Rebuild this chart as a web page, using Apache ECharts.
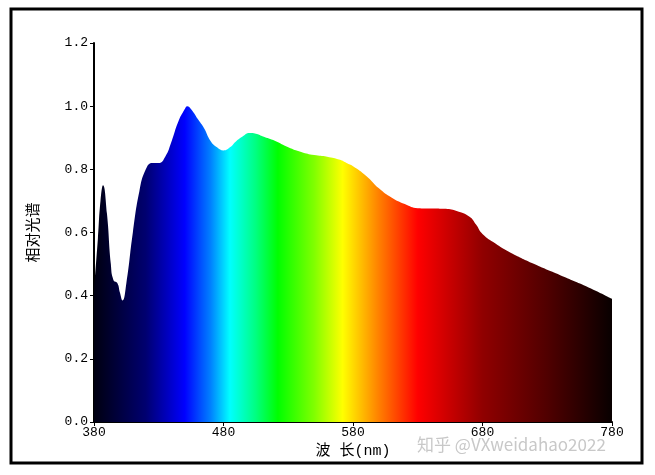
<!DOCTYPE html>
<html>
<head>
<meta charset="utf-8">
<script src="https://cdn.jsdelivr.net/npm/echarts@6/dist/echarts.min.js"></script>
<style>
html,body{margin:0;padding:0;background:#fff;}
#chart{width:655px;height:475px;}
</style>
</head>
<body>
<div id="chart"></div>
<script>
// 波长 (nm) 和 相对光谱
var wavelengths = [380,383,385,387,390,393,395,398,400,402,405,410,415,420,425,430,435,440,445,450,452,455,460,465,470,475,480,485,490,495,500,505,510,520,530,540,550,560,570,575,580,590,600,610,620,630,640,650,660,670,675,680,690,700,720,740,760,780];
var spectrum = [0.42,0.58,0.70,0.75,0.66,0.50,0.45,0.44,0.41,0.385,0.44,0.60,0.73,0.80,0.82,0.82,0.84,0.89,0.95,0.99,1.0,0.99,0.96,0.93,0.89,0.87,0.86,0.87,0.89,0.905,0.915,0.913,0.905,0.89,0.87,0.855,0.845,0.84,0.83,0.82,0.81,0.78,0.74,0.71,0.69,0.677,0.676,0.675,0.668,0.65,0.625,0.595,0.565,0.54,0.50,0.465,0.43,0.39];
var xTicks = [380,480,580,680,780];
// 颜色沿波长变化
var colorStops = [
    [380,'#000010'],[420,'#000070'],[450,'#0000ff'],[470,'#0080ff'],[485,'#00ffff'],
    [505,'#00ff80'],[522,'#00ff00'],[550,'#80ff00'],[572,'#ffff00'],[600,'#ff8000'],
    [630,'#ff0000'],[680,'#900000'],[730,'#500000'],[780,'#080000']
];

var data = wavelengths.map(function (w, i) { return [w, spectrum[i]]; });
var stops = colorStops.map(function (c) { return { offset: (c[0] - 380) / 400, color: c[1] }; });
var font = '"Liberation Mono", "DejaVu Sans Mono", monospace';

var myChart = echarts.init(document.getElementById('chart'));
var option = {
    backgroundColor: '#fff',
    animation: false,
    grid: { left: 94, right: 43, top: 43, bottom: 53 },
    xAxis: {
        type: 'value', min: 380, max: 780, interval: 100,
        name: '波 长(nm)', nameLocation: 'middle', nameGap: 22,
        nameTextStyle: { fontFamily: font + ', "Noto Sans CJK SC"', fontSize: 15, color: '#000' },
        axisLine: { lineStyle: { color: '#000', width: 2 } },
        axisTick: { show: true, length: 4, lineStyle: { color: '#000' } },
        axisLabel: { color: '#000', fontFamily: font, fontSize: 13, margin: 4,
            formatter: function (v) { return xTicks.indexOf(v) >= 0 ? v : ''; } },
        splitLine: { show: false }
    },
    yAxis: {
        type: 'value', min: 0, max: 1.2, interval: 0.2,
        name: '相对光谱', nameLocation: 'middle', nameGap: 54,
        nameTextStyle: { fontFamily: '"Noto Sans CJK SC", sans-serif', fontSize: 15, color: '#000' },
        axisLine: { show: true, lineStyle: { color: '#000', width: 2 } },
        axisTick: { show: true, length: 4, lineStyle: { color: '#000' } },
        axisLabel: { color: '#000', fontFamily: font, fontSize: 13, margin: 6,
            formatter: function (v) { return v.toFixed(1); } },
        splitLine: { show: false }
    },
    series: [{
        type: 'line',
        data: data,
        smooth: 0.5,
        symbol: 'none',
        lineStyle: { width: 0 },
        areaStyle: {
            opacity: 1,
            color: new echarts.graphic.LinearGradient(0, 0, 1, 0, stops)
        }
    }],
    graphic: [
        { type: 'rect', shape: { x: 11, y: 9, width: 631, height: 454 },
          style: { fill: 'none', stroke: '#000', lineWidth: 3 } },
        { type: 'text', left: 417, top: 436,
          style: { text: '知乎 @VXweidahao2022', fill: '#c8c8c8', font: '17px "Noto Sans CJK SC", sans-serif' } }
    ]
};
myChart.setOption(option);
</script>
</body>
</html>
